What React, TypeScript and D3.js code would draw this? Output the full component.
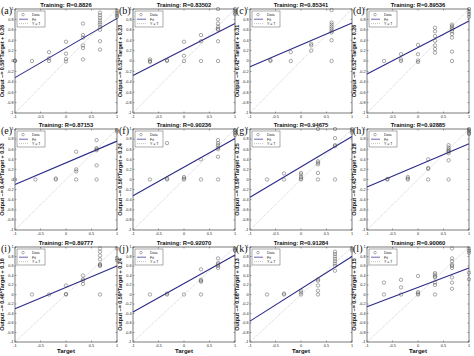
import React from 'react';
import * as d3 from 'd3';

const panelLetters = ['a', 'b', 'c', 'd', 'e', 'f', 'g', 'h', 'i', 'j', 'k', 'l'];
const titles = [
  'Training: R=0.8826', 'Training: R=0.83502', 'Training: R=0.85341', 'Training: R=0.89536',
  'Training: R=0.87153', 'Training: R=0.90236', 'Training: R=0.94675', 'Training: R=0.92885',
  'Training: R=0.89777', 'Training: R=0.92070', 'Training: R=0.91284', 'Training: R=0.90060',
];
const fitSlopes = [0.57, 0.5, 0.42, 0.51, 0.43, 0.565, 0.6, 0.43, 0.45, 0.6, 0.68, 0.41];
const fitIntercepts = [0.25, 0.22, 0.31, 0.26, 0.33, 0.245, 0.25, 0.28, 0.15, 0.23, 0.12, 0.15];
const yLabels = [
  'Output ~= 0.58*Target + 0.26', 'Output ~= 0.52*Target + 0.23', 'Output ~= 0.42*Target + 0.31',
  'Output ~= 0.52*Target + 0.26', 'Output ~= 0.44*Target + 0.33', 'Output ~= 0.56*Target + 0.24',
  'Output ~= 0.59*Target + 0.25', 'Output ~= 0.43*Target + 0.28', 'Output ~= 0.46*Target + 0.16',
  'Output ~= 0.59*Target + 0.24', 'Output ~= 0.68*Target + 0.13', 'Output ~= 0.42*Target + 0.15',
];
const xTicks = [-1, -0.5, 0, 0.5, 1];
const yTicks = [-1, -0.8, -0.6, -0.4, -0.2, 0, 0.2, 0.4, 0.6, 0.8, 1];

const dataA = [[-1, 0], [-1, 0.01], [-0.667, 0], [-0.333, 0.17], [-0.333, 0.05], [-0.333, 0], [0, 0.37], [0, 0.14], [0, 0.04], [0, -0.01], [0.333, 0.72], [0.333, 0.5], [0.333, 0.45], [0.333, 0.3], [0.333, 0.25], [0.333, 0.03], [0.667, 0.93], [0.667, 0.88], [0.667, 0.83], [0.667, 0.78], [0.667, 0.74], [0.667, 0.7], [0.667, 0.65], [0.667, 0.6], [0.667, 0.38], [0.667, 0.22], [1, 0.97], [1, 0.92], [1, 0.88], [1, 0.85]];
const dataB = [[-0.667, 0.03], [-0.667, 0], [-0.667, -0.02], [-0.333, 0], [-0.333, 0.02], [0, 0.37], [0, 0.1], [0, 0], [0.333, 0.5], [0.333, 0.38], [0.333, 0], [0.667, 1], [0.667, 0.8], [0.667, 0.72], [0.667, 0.66], [0.667, 0.62], [0.667, 0.6], [0.667, 0.38], [0.667, 0], [1, 1], [1, 0.97], [1, 0.93], [1, 0.9]];
const dataC = [[-0.6, 0.02], [-0.6, 0], [-0.2, 0.17], [-0.2, 0], [0.2, 0.33], [0.2, 0.3], [0.2, 0.2], [0.6, 0.98], [0.6, 0.74], [0.6, 0.7], [0.6, 0.66], [0.6, 0.62], [0.6, 0.58], [0.6, 0.55], [0.6, 0.4], [0.6, 0]];
const dataD = [[-0.667, 0], [-0.333, 0.13], [-0.333, 0.03], [-0.333, 0], [0, 0.31], [0, 0.13], [0, 0.01], [0, -0.02], [0.333, 0.64], [0.333, 0.57], [0.333, 0.48], [0.333, 0.39], [0.333, 0.3], [0.333, 0.23], [0.333, 0.16], [0.667, 0.7], [0.667, 0.67], [0.667, 0.64], [0.667, 0.61], [0.667, 0.57], [0.667, 0.52], [0.667, 0.45], [0.667, 0.18], [0.667, 0], [1, 1], [1, 0.95], [1, 0.9], [1, 0.85]];
const dataE = [[-1, 0], [-0.6, 0], [-0.2, 0.02], [-0.2, 0], [0.2, 0.55], [0.2, 0.2], [0.2, 0.16], [0.2, 0], [0.6, 0.78], [0.6, 0.62], [0.6, 0.6], [0.6, 0.58], [0.6, 0.28], [0.6, 0], [1, 0.98], [1, 0.95]];
const dataF = [[-0.667, 0], [-0.333, 0.72], [-0.333, 0.02], [-0.333, 0], [0, 0.05], [0, 0.02], [0, 0], [0.333, 0.4], [0.333, 0], [0.667, 0.78], [0.667, 0.72], [0.667, 0.68], [0.667, 0.63], [0.667, 0.6], [0.667, 0.45], [0.667, 0], [1, 0.98], [1, 0.95], [1, 0.92], [1, 0.88]];
const dataG = [[-0.667, 0], [-0.333, 0.12], [-0.333, 0], [0, 0.13], [0, 0.1], [0, 0.05], [0, 0.02], [0, 0], [0.333, 1], [0.333, 0.36], [0.333, 0.33], [0.333, 0.3], [0.333, 0.13], [0.333, 0], [0.667, 1], [0.667, 0.82], [0.667, 0.68], [0.667, 0.66], [0.667, 0], [1, 1], [1, 0.97], [1, 0.93]];
const dataH = [[-0.6, 0], [-0.6, 0.01], [-0.2, 0.05], [-0.2, 0.02], [-0.2, 0], [0.2, 0.4], [0.2, 0.23], [0.2, 0.21], [0.2, 0], [0.6, 0.68], [0.6, 0.63], [0.6, 0.6], [0.6, 0.57], [0.6, 0.55], [0.6, 0.52], [0.6, 0.38], [0.6, 0], [1, 1], [1, 0.98], [1, 0.95], [1, 0.92], [1, 0.9]];
const dataI = [[-0.667, 0], [-0.333, 0], [0, 0], [0, 0.01], [0, 0.19], [0.333, 0.4], [0.333, 0.32], [0.333, 0.29], [0.333, 0.22], [0.667, 0.97], [0.667, 0.9], [0.667, 0.82], [0.667, 0.74], [0.667, 0.64], [0.667, 0.62], [0.667, 0.6], [0.667, 0], [1, 0.97], [1, 0.76], [1, 0.72]];
const dataJ = [[-0.667, 0], [-0.333, 0], [-0.333, 0.02], [0, 0], [0.333, 0.53], [0.333, 0.31], [0.333, 0.29], [0.333, 0.27], [0.333, 0], [0.667, 0.76], [0.667, 0.66], [0.667, 0.63], [0.667, 0.6], [0.667, 0.56], [1, 0.97], [1, 0.94], [1, 0.92]];
const dataK = [[-0.667, 0], [-0.333, 0], [-0.333, 0.02], [0, 0.08], [0, 0.04], [0, 0], [0.333, 0.32], [0.333, 0.29], [0.333, 0.19], [0.333, 0.08], [0.333, 0], [0.667, 0.9], [0.667, 0.85], [0.667, 0.8], [0.667, 0.75], [0.667, 0.7], [0.667, 0.65], [0.667, 0.6], [0.667, 0.5], [1, 0.97], [1, 0.93]];
const dataL = [[-0.667, 0.25], [-0.667, 0], [-0.333, 0.31], [-0.333, 0.15], [-0.333, 0], [0, 0.39], [0, 0.05], [0, 0.02], [0, 0], [0.333, 0.45], [0.333, 0.42], [0.333, 0.38], [0.333, 0.36], [0.333, 0.25], [0.333, 0.2], [0.333, 0], [0.667, 0.97], [0.667, 0.76], [0.667, 0.7], [0.667, 0.63], [0.667, 0.6], [0.667, 0.56], [0.667, 0.36], [0.667, 0.25], [0.667, 0.12], [1, 0.97], [1, 0.92], [1, 0.88], [1, 0.46], [1, 0.32]];
const panelData = [dataA, dataB, dataC, dataD, dataE, dataF, dataG, dataH, dataI, dataJ, dataK, dataL];

const colLefts = [15, 133, 250, 367];
const rowTops = [9, 129, 247];
const rowHeights = [104, 101, 95];
const W = 102;
const SANS = 'Liberation Sans, Arial, sans-serif';

const fmtY = (v: number) => (Math.abs(v) < 1e-9 ? '0' : String(+v.toFixed(1)));

function Panel({ idx }: { idx: number }) {
  const row = Math.floor(idx / 4);
  const left = colLefts[idx % 4];
  const top = rowTops[row];
  const H = rowHeights[row];
  const x = d3.scaleLinear().domain([-1, 1]).range([left, left + W]);
  const y = d3.scaleLinear().domain([-1, 1]).range([top + H, top]);
  const s = fitSlopes[idx];
  const b = fitIntercepts[idx];
  const lx = left + 2;
  const ly = top + 2;
  const clipId = `clip-${idx}`;
  return (
    <g>
      <clipPath id={clipId}>
        <rect x={left - 2} y={top - 2} width={W + 4} height={H + 4} />
      </clipPath>
      <rect x={left} y={top} width={W} height={H} fill="#fff" stroke="#222" strokeWidth={0.6} />
      {xTicks.map((t) => (
        <g key={'x' + t}>
          <line x1={x(t)} x2={x(t)} y1={top + H} y2={top + H - 1.5} stroke="#222" strokeWidth={0.4} />
          <line x1={x(t)} x2={x(t)} y1={top} y2={top + 1.5} stroke="#222" strokeWidth={0.4} />
          <text x={x(t)} y={top + H + 4.8} fontSize={3.8} textAnchor="middle" fill="#222" fontFamily={SANS}>{t}</text>
        </g>
      ))}
      {yTicks.map((t) => (
        <g key={'y' + t}>
          <line x1={left} x2={left + 1.5} y1={y(t)} y2={y(t)} stroke="#222" strokeWidth={0.4} />
          <line x1={left + W} x2={left + W - 1.5} y1={y(t)} y2={y(t)} stroke="#222" strokeWidth={0.4} />
          <text x={left - 1.5} y={y(t) + 1.3} fontSize={3.8} textAnchor="end" fill="#222" fontFamily={SANS}>{fmtY(t)}</text>
        </g>
      ))}
      <g clipPath={`url(#${clipId})`}>
        <line x1={x(-1)} y1={y(-1)} x2={x(1)} y2={y(1)} stroke="#b0b0b0" strokeWidth={0.6} strokeDasharray="1,1" />
        <line x1={x(-1)} y1={y(s * -1 + b)} x2={x(1)} y2={y(s + b)} stroke="#2a2a8a" strokeWidth={1.1} />
        {panelData[idx].map((p, i) => (
          <circle key={i} cx={x(p[0])} cy={y(p[1])} r={1.7} fill="none" stroke="#444" strokeWidth={0.45} />
        ))}
      </g>
      <rect x={lx} y={ly} width={28} height={16} fill="#fff" stroke="#333" strokeWidth={0.4} />
      <circle cx={lx + 6} cy={ly + 3.6} r={1.3} fill="none" stroke="#444" strokeWidth={0.4} />
      <text x={lx + 15} y={ly + 5} fontSize={3.6} fill="#222" fontFamily={SANS}>Data</text>
      <line x1={lx + 2} x2={lx + 11} y1={ly + 8.2} y2={ly + 8.2} stroke="#2a2a8a" strokeWidth={0.7} />
      <text x={lx + 15} y={ly + 9.5} fontSize={3.6} fill="#222" fontFamily={SANS}>Fit</text>
      <line x1={lx + 2} x2={lx + 11} y1={ly + 12.6} y2={ly + 12.6} stroke="#999" strokeWidth={0.6} strokeDasharray="1,1" />
      <text x={lx + 15} y={ly + 14} fontSize={3.6} fill="#222" fontFamily={SANS}>Y = T</text>
      <text x={left + W / 2} y={top - 1.8} fontSize={5.8} fontWeight="bold" textAnchor="middle" fill="#111" fontFamily={SANS}>{titles[idx]}</text>
      <text transform={`translate(${left - 11},${top + H / 2}) rotate(-90)`} fontSize={5.4} fontWeight="bold" textAnchor="middle" fill="#111" fontFamily={SANS}>{yLabels[idx]}</text>
      <text x={left - 14} y={top + 5} fontSize={10} fill="#111" fontFamily="Liberation Serif, Times New Roman, serif">({panelLetters[idx]})</text>
      {idx >= 8 && (
        <text x={left + W / 2} y={top + H + 10.5} fontSize={6} fontWeight="bold" textAnchor="middle" fill="#111" fontFamily={SANS}>Target</text>
      )}
    </g>
  );
}

export default function App() {
  return (
    <svg width={474} height={356} style={{ position: 'absolute', left: 0, top: 0, background: '#fff' }}>
      <rect x={0} y={0} width={474} height={356} fill="#fff" />
      {panelLetters.map((_, i) => (
        <Panel key={i} idx={i} />
      ))}
    </svg>
  );
}
